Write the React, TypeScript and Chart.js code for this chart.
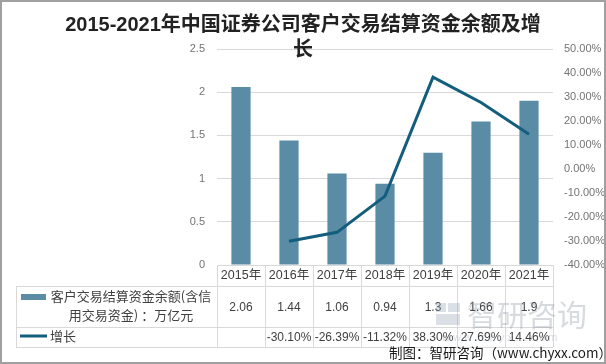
import { useEffect, useRef } from 'react';
import { Chart, registerables } from 'chart.js';

Chart.register(...registerables);

const categories = ['2015年', '2016年', '2017年', '2018年', '2019年', '2020年', '2021年'];
const balance = [2.06, 1.44, 1.06, 0.94, 1.3, 1.66, 1.9];
const growth = [null, -30.1, -26.39, -11.32, 38.3, 27.69, 14.46];
const balanceLabels = ['2.06', '1.44', '1.06', '0.94', '1.3', '1.66', '1.9'];
const growthLabels = ['', '-30.10%', '-26.39%', '-11.32%', '38.30%', '27.69%', '14.46%'];
const barNameLines = ['客户交易结算资金余额(含信', '用交易资金) ：万亿元'];
const lineName = '增长';
const titleLines = ['2015-2021年中国证券公司客户交易结算资金余额及增', '长'];
const footerText = '制图：智研咨询（www.chyxx.com）';
const watermarkText = '智研咨询';
const watermarkUrl = 'w w w . c h y x x . c o m';

const BAR_COLOR = '#5a8ca6';
const LINE_COLOR = '#135d7d';
const GRID = '#d9d9d9';
const TABLE_LINE = '#d9d9d9';
const AXIS_TEXT = '#737373';
const TABLE_TEXT = '#404040';

const decorPlugin = {
  id: 'decor',
  beforeDraw(chart: any) {
    const ctx = chart.ctx;
    ctx.save();
    ctx.fillStyle = '#ffffff';
    ctx.fillRect(0, 0, chart.width, chart.height);
    ctx.restore();
  },
  afterDraw(chart: any) {
    const ctx = chart.ctx as CanvasRenderingContext2D;
    const area = chart.chartArea;
    const x = chart.scales.x;
    const n = categories.length;
    const w = (area.right - area.left) / n;
    const top = area.bottom;
    const headerBottom = top + 21;
    const row1Bottom = headerBottom + 40.5;
    const row2Bottom = row1Bottom + 20.5;
    const tableLeft = 16;
    ctx.save();

    ctx.strokeStyle = TABLE_LINE;
    ctx.lineWidth = 1;
    const hl = (x1: number, x2: number, y: number) => {
      ctx.beginPath();
      ctx.moveTo(x1, Math.round(y) + 0.5);
      ctx.lineTo(x2, Math.round(y) + 0.5);
      ctx.stroke();
    };
    const vl = (xx: number, y1: number, y2: number) => {
      ctx.beginPath();
      ctx.moveTo(Math.round(xx) + 0.5, y1);
      ctx.lineTo(Math.round(xx) + 0.5, y2);
      ctx.stroke();
    };
    hl(area.left, area.right, top);
    hl(tableLeft, area.right, headerBottom);
    hl(tableLeft, area.right, row1Bottom);
    hl(tableLeft, area.right, row2Bottom);
    for (let i = 0; i <= n; i++) vl(area.left + i * w, top, row2Bottom);
    vl(tableLeft, headerBottom, row2Bottom);

    ctx.fillStyle = TABLE_TEXT;
    ctx.textAlign = 'center';
    ctx.textBaseline = 'middle';
    ctx.font = '12.5px "Liberation Sans", "Noto Sans CJK SC"';
    categories.forEach((c, i) => {
      ctx.fillText(c, x.getPixelForValue(i), (top + headerBottom) / 2 + 0.5);
    });
    ctx.font = '12px "Liberation Sans", "Noto Sans CJK SC"';
    balanceLabels.forEach((v, i) => {
      ctx.fillText(v, x.getPixelForValue(i), (headerBottom + row1Bottom) / 2 + 1);
    });
    growthLabels.forEach((v, i) => {
      ctx.fillText(v, x.getPixelForValue(i), (row1Bottom + row2Bottom) / 2 + 1);
    });

    ctx.fillStyle = BAR_COLOR;
    ctx.fillRect(21, 294, 25, 6);
    ctx.font = '13px "Noto Sans CJK SC"';
    ctx.fillStyle = TABLE_TEXT;
    ctx.textAlign = 'center';
    ctx.fillText(barNameLines[0], 131, 296.5);
    ctx.fillText(barNameLines[1], 131, 315.5);
    ctx.strokeStyle = LINE_COLOR;
    ctx.lineWidth = 3;
    ctx.beginPath();
    ctx.moveTo(20, 336);
    ctx.lineTo(47, 336);
    ctx.stroke();
    ctx.textAlign = 'left';
    ctx.fillText(lineName, 50, 336);

    ctx.fillStyle = 'rgba(150,165,180,0.35)';
    ctx.fillRect(436, 303, 10, 9);
    ctx.fillRect(448, 303, 12, 9);
    ctx.fillRect(436, 314, 24, 11);
    ctx.fillStyle = 'rgba(140,150,160,0.35)';
    ctx.font = '30px "Noto Sans CJK SC"';
    ctx.textAlign = 'left';
    ctx.fillText(watermarkText, 467, 315);
    ctx.font = '11px "Liberation Sans"';
    ctx.fillStyle = 'rgba(160,170,180,0.4)';
    ctx.fillText(watermarkUrl, 442, 338);

    ctx.fillStyle = '#222222';
    ctx.textAlign = 'center';
    ctx.font = 'bold 20px "Liberation Sans", "Noto Sans CJK SC"';
    ctx.fillText(titleLines[0], 303, 25);
    ctx.fillText(titleLines[1], 303, 50);

    ctx.fillStyle = '#1a1a1a';
    ctx.textAlign = 'left';
    ctx.font = '13.5px "Noto Sans CJK SC"';
    ctx.fillText(footerText, 389, 353);

    ctx.strokeStyle = '#a0a0a0';
    ctx.lineWidth = 2;
    ctx.strokeRect(1, 1, chart.width - 2, chart.height - 2);
    ctx.restore();
  },
};

export default function App() {
  const ref = useRef<HTMLCanvasElement | null>(null);
  useEffect(() => {
    if (!ref.current) return;
    const chart = new Chart(ref.current, {
      type: 'bar',
      data: {
        labels: categories,
        datasets: [
          {
            type: 'line',
            label: lineName,
            data: growth as any,
            yAxisID: 'y1',
            borderColor: LINE_COLOR,
            backgroundColor: LINE_COLOR,
            borderWidth: 3,
            pointRadius: 0,
            tension: 0,
            order: 0,
          } as any,
          {
            type: 'bar',
            label: barNameLines.join(''),
            data: balance,
            yAxisID: 'y',
            backgroundColor: BAR_COLOR,
            categoryPercentage: 1,
            barPercentage: 0.4,
            order: 1,
          },
        ],
      },
      options: {
        responsive: false,
        animation: false,
        devicePixelRatio: 1,
        layout: { padding: { top: 49, bottom: 99, left: 0, right: 0 } },
        plugins: {
          legend: { display: false },
          tooltip: { enabled: false },
          title: { display: false },
        },
        scales: {
          x: { display: false, offset: true },
          y: {
            position: 'left',
            min: 0,
            max: 2.5,
            afterFit: (s: any) => { s.width = 217; },
            grid: { color: GRID, drawTicks: false },
            border: { display: false },
            ticks: {
              stepSize: 0.5,
              padding: 12,
              color: AXIS_TEXT,
              font: { family: '"Liberation Sans"', size: 11 },
              callback: (v: any) => String(v),
            },
          },
          y1: {
            position: 'right',
            min: -40,
            max: 50,
            afterFit: (s: any) => { s.width = 53; },
            grid: { display: false, drawTicks: false },
            border: { display: false },
            ticks: {
              stepSize: 10,
              padding: 11,
              color: AXIS_TEXT,
              font: { family: '"Liberation Sans"', size: 11 },
              callback: (v: any) => Number(v).toFixed(2) + '%',
            },
          },
        },
      },
      plugins: [decorPlugin],
    });
    return () => chart.destroy();
  }, []);
  return (
    <div style={{ position: 'absolute', left: 0, top: 0, width: 606, height: 364 }}>
      <canvas ref={ref} width={606} height={364} style={{ width: 606, height: 364, display: 'block' }} />
    </div>
  );
}
